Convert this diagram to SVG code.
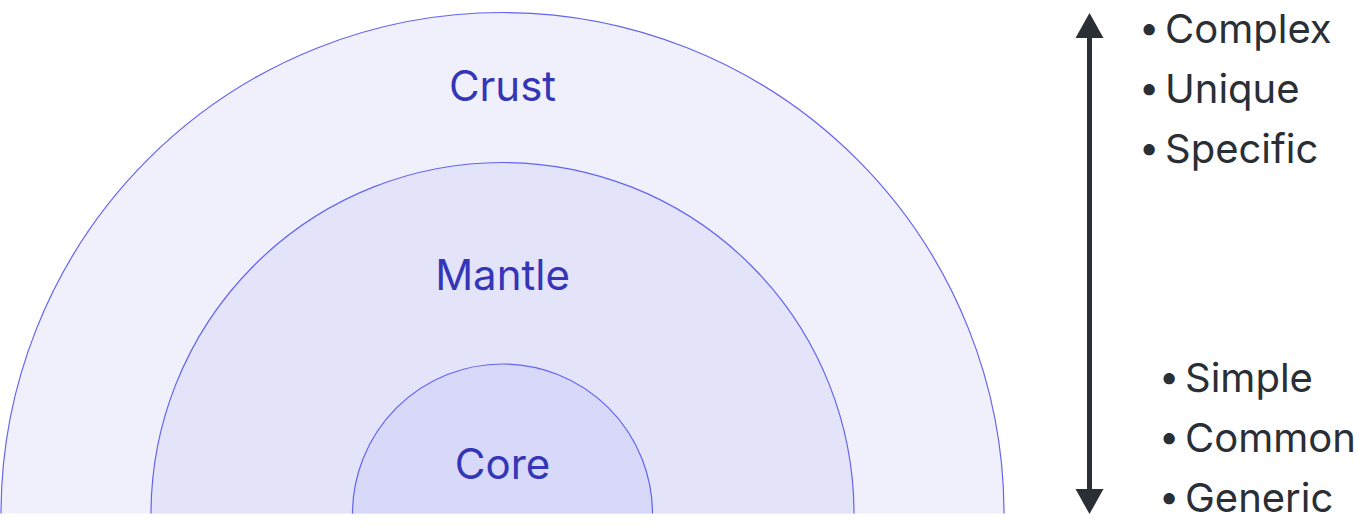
<svg xmlns="http://www.w3.org/2000/svg" width="1358" height="530" viewBox="0 0 1358 530">
<style>
.layer{stroke:#6363F0;stroke-width:1.2}
.lbl{font-family:Inter,"Liberation Sans",sans-serif;font-size:42px;fill:#3535B8;text-anchor:middle}
.item{font-family:Inter,"Liberation Sans",sans-serif;font-size:40px;fill:#2A2E35}
.b{font-size:36px}
</style>
<defs>
<clipPath id="cut"><rect x="0" y="0" width="1358" height="513.5"/></clipPath>
</defs>
<g clip-path="url(#cut)">
<g id="crust">
<circle class="layer" cx="502.5" cy="514" r="501.5" fill="#F0F0FC"/>
<text class="lbl" x="502.5" y="101">Crust</text>
</g>
<g id="mantle">
<circle class="layer" cx="502.5" cy="514" r="351.5" fill="#E3E3FA"/>
<text class="lbl" x="502.5" y="290">Mantle</text>
</g>
<g id="core">
<circle class="layer" cx="502.5" cy="514" r="150" fill="#D8D8F9"/>
<text class="lbl" x="502.5" y="479">Core</text>
</g>
</g>
<g id="connectors">
<line x1="1089.5" y1="36" x2="1089.5" y2="491" stroke="#2A2E35" stroke-width="5"/>
<polygon points="1089.5,13 1103.5,38 1075.5,38" fill="#2A2E35"/>
<polygon points="1089.5,514 1103.5,489 1075.5,489" fill="#2A2E35"/>
</g>
<g id="top-list" class="item">
<text><tspan class="b" x="1139" y="40">•</tspan><tspan x="1165" y="43">Complex</tspan></text>
<text><tspan class="b" x="1139" y="100">•</tspan><tspan x="1165" y="103">Unique</tspan></text>
<text><tspan class="b" x="1139" y="160">•</tspan><tspan x="1165" y="163">Specific</tspan></text>
</g>
<g id="bottom-list" class="item">
<text><tspan class="b" x="1159" y="389">•</tspan><tspan x="1185" y="392">Simple</tspan></text>
<text><tspan class="b" x="1159" y="449">•</tspan><tspan x="1185" y="452">Common</tspan></text>
<text><tspan class="b" x="1159" y="509">•</tspan><tspan x="1185" y="512">Generic</tspan></text>
</g>
</svg>
